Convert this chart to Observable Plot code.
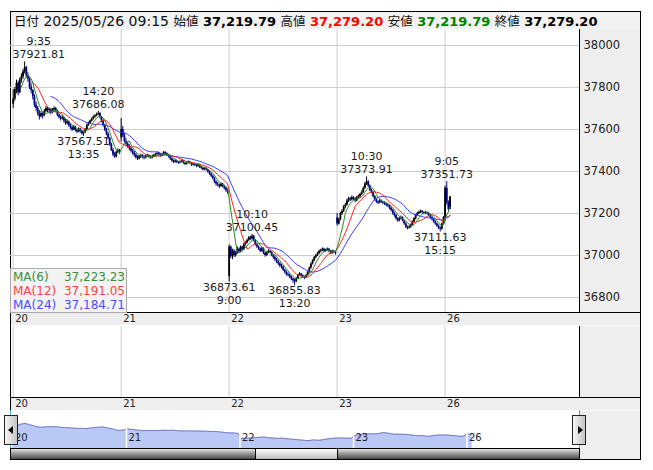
<!DOCTYPE html>
<html><head><meta charset="utf-8">
<script src="https://cdn.jsdelivr.net/npm/d3@7"></script>
<script src="https://cdn.jsdelivr.net/npm/@observablehq/plot@0.6"></script>
<style>
body{margin:0;background:#fff;}
#wrap{position:relative;width:653px;height:470px;overflow:hidden;font-family:"DejaVu Sans",sans-serif;color:#111;}
.abs{position:absolute;box-sizing:border-box;}
.cjk{font-family:"Noto Sans CJK JP",sans-serif;font-size:12.5px;}
.hv{font-weight:bold;font-size:13px;}
svg{position:absolute;}
</style></head><body><div id="wrap"></div>
<script>
// ---------------- data ----------------
const days = ["20","21","22","23","26"];
const headerDate = "2025/05/26 09:15";
const headerLabels = ["始値","高値","安値","終値"];
const headerValues = ["37,219.79","37,279.20","37,219.79","37,279.20"];
const yTicks = [36800,37000,37200,37400,37600,37800,38000];
const maPeriods = [6,12,24];
const maLegendValues = ["37,223.23","37,191.05","37,184.71"];
// [open, high, low, close] per 5-minute bar
const day20 = [[37720,37790,37700,37745],[37745,37800,37735,37790],[37790,37835,37770,37820],[37820,37830,37760,37775],[37775,37845,37770,37835],[37835,37865,37820,37850],[37850,37885,37840,37875],[37875,37921.81,37865,37895],[37895,37900,37845,37855],[37855,37870,37825,37840],[37840,37845,37790,37800],[37800,37815,37770,37785],[37785,37790,37740,37755],[37755,37765,37705,37715],[37715,37730,37685,37700],[37700,37710,37665,37675],[37675,37690,37645,37660],[37660,37685,37655,37675],[37675,37680,37650,37665],[37665,37695,37660,37685],[37685,37710,37680,37700],[37700,37705,37680,37690],[37690,37700,37675,37695],[37695,37700,37670,37680],[37680,37700,37675,37692],[37692,37708,37685,37700],[37700,37705,37680,37688],[37688,37692,37660,37668],[37668,37675,37650,37658],[37658,37665,37640,37650],[37650,37668,37645,37655],[37655,37660,37630,37640],[37640,37648,37620,37628],[37628,37645,37622,37636],[37636,37640,37610,37618],[37618,37625,37600,37608],[37608,37615,37590,37598],[37598,37620,37595,37612],[37612,37615,37588,37594],[37594,37600,37580,37588],[37588,37608,37585,37602],[37602,37605,37582,37590],[37590,37595,37572,37580],[37580,37592,37567.51,37585],[37585,37605,37580,37600],[37600,37625,37598,37620],[37620,37635,37615,37630],[37630,37645,37625,37640],[37640,37655,37635,37650],[37650,37665,37645,37660],[37660,37670,37652,37665],[37665,37678,37660,37672],[37672,37686.08,37665,37676],[37676,37680,37650,37658],[37658,37662,37632,37640],[37640,37645,37612,37618],[37618,37625,37590,37598],[37598,37605,37570,37578],[37578,37585,37550,37558],[37558,37562,37520,37528],[37528,37535,37495,37500],[37500,37510,37470,37480],[37480,37490,37462,37470],[37470,37498,37465,37492],[37492,37508,37485,37500],[37500,37505,37480,37490]];
const day21 = [[37560,37652,37540,37600],[37600,37615,37560,37570],[37570,37580,37535,37542],[37542,37555,37520,37530],[37530,37540,37510,37520],[37520,37528,37498,37508],[37508,37515,37488,37498],[37498,37505,37478,37488],[37488,37495,37468,37478],[37478,37485,37458,37466],[37466,37475,37452,37460],[37460,37478,37455,37472],[37472,37482,37462,37476],[37476,37480,37460,37468],[37468,37475,37455,37464],[37464,37478,37460,37472],[37472,37482,37466,37476],[37476,37480,37462,37470],[37470,37475,37458,37465],[37465,37478,37460,37472],[37472,37482,37468,37476],[37476,37486,37472,37482],[37482,37492,37478,37486],[37486,37490,37474,37480],[37480,37484,37468,37474],[37474,37486,37470,37482],[37482,37496,37478,37490],[37490,37494,37478,37484],[37484,37488,37472,37478],[37478,37482,37464,37470],[37470,37475,37452,37460],[37460,37465,37444,37450],[37450,37455,37438,37444],[37444,37456,37440,37450],[37450,37454,37438,37444],[37444,37448,37434,37440],[37440,37450,37436,37446],[37446,37456,37442,37450],[37450,37452,37434,37440],[37440,37444,37428,37434],[37434,37446,37430,37440],[37440,37450,37436,37445],[37445,37448,37434,37440],[37440,37442,37424,37430],[37430,37440,37426,37436],[37436,37438,37424,37430],[37430,37434,37418,37424],[37424,37434,37420,37430],[37430,37432,37414,37420],[37420,37424,37408,37414],[37414,37418,37402,37408],[37408,37420,37404,37415],[37415,37418,37402,37408],[37408,37410,37392,37398],[37398,37402,37382,37388],[37388,37392,37370,37378],[37378,37382,37360,37368],[37368,37372,37342,37350],[37350,37356,37330,37340],[37340,37348,37326,37335],[37335,37340,37318,37328],[37328,37345,37324,37340],[37340,37344,37322,37330],[37330,37335,37312,37320],[37320,37326,37302,37310],[37310,37315,37292,37300]];
const day22 = [[36900,37050,36873.61,37040],[37040,37045,36985,36995],[36995,37030,36980,37020],[37020,37028,36990,37000],[37000,37020,36992,37012],[37012,37040,37005,37030],[37030,37035,37010,37018],[37018,37045,37012,37040],[37040,37044,37020,37028],[37028,37058,37024,37052],[37052,37066,37045,37060],[37060,37078,37055,37072],[37072,37090,37066,37085],[37085,37092,37072,37078],[37078,37100.45,37074,37092],[37092,37095,37065,37070],[37070,37075,37045,37050],[37050,37058,37034,37040],[37040,37046,37024,37030],[37030,37036,37014,37020],[37020,37040,37016,37032],[37032,37036,37004,37010],[37010,37015,36992,37000],[37000,37018,36996,37012],[37012,37028,37008,37020],[37020,37024,37008,37014],[37014,37018,36994,37000],[37000,37004,36982,36990],[36990,36995,36972,36980],[36980,36986,36962,36970],[36970,36975,36952,36960],[36960,36966,36942,36950],[36950,36958,36936,36945],[36945,36950,36924,36930],[36930,36935,36912,36920],[36920,36926,36902,36910],[36910,36918,36898,36905],[36905,36910,36890,36898],[36898,36902,36880,36888],[36888,36892,36868,36880],[36880,36888,36855.83,36875],[36875,36895,36870,36890],[36890,36910,36886,36905],[36905,36918,36900,36912],[36912,36915,36898,36904],[36904,36908,36890,36898],[36898,36902,36885,36894],[36894,36910,36890,36905],[36905,36925,36902,36920],[36920,36945,36915,36940],[36940,36965,36935,36960],[36960,36980,36955,36975],[36975,36995,36970,36990],[36990,37005,36984,37000],[37000,37015,36995,37010],[37010,37025,37004,37020],[37020,37030,37012,37025],[37025,37036,37018,37030],[37030,37034,37014,37020],[37020,37030,37015,37025],[37025,37036,37020,37030],[37030,37034,37014,37020],[37020,37024,37004,37010],[37010,37026,37006,37020],[37020,37024,37008,37015],[37015,37020,37002,37010]];
const day23 = [[37180,37200,37140,37150],[37150,37178,37145,37170],[37170,37205,37165,37200],[37200,37218,37190,37210],[37210,37238,37205,37230],[37230,37248,37222,37240],[37240,37268,37235,37260],[37260,37278,37252,37270],[37270,37276,37256,37265],[37265,37284,37260,37275],[37275,37280,37262,37270],[37270,37274,37252,37260],[37260,37282,37256,37275],[37275,37288,37270,37280],[37280,37296,37274,37290],[37290,37308,37285,37300],[37300,37326,37296,37320],[37320,37348,37315,37340],[37340,37373.91,37334,37350],[37350,37356,37324,37330],[37330,37336,37304,37310],[37310,37316,37294,37300],[37300,37304,37274,37280],[37280,37285,37258,37265],[37265,37270,37248,37255],[37255,37260,37242,37250],[37250,37266,37246,37260],[37260,37264,37248,37255],[37255,37258,37242,37250],[37250,37256,37238,37245],[37245,37250,37232,37240],[37240,37246,37228,37235],[37235,37240,37218,37225],[37225,37230,37208,37215],[37215,37220,37192,37200],[37200,37206,37182,37190],[37190,37195,37168,37175],[37175,37180,37158,37165],[37165,37182,37160,37175],[37175,37188,37170,37180],[37180,37184,37160,37165],[37165,37170,37144,37150],[37150,37156,37128,37135],[37135,37140,37122,37130],[37130,37142,37126,37135],[37135,37150,37130,37145],[37145,37165,37140,37160],[37160,37180,37155,37175],[37175,37195,37170,37190],[37190,37206,37185,37200],[37200,37212,37195,37205],[37205,37216,37200,37210],[37210,37214,37198,37205],[37205,37208,37194,37200],[37200,37210,37196,37205],[37205,37208,37192,37200],[37200,37204,37184,37190],[37190,37194,37174,37180],[37180,37184,37164,37170],[37170,37175,37154,37160],[37160,37165,37144,37150],[37150,37154,37134,37140],[37140,37145,37124,37130],[37130,37136,37111.63,37125],[37125,37155,37120,37150],[37150,37185,37145,37180]];
const day26 = [[37180,37330,37160,37320],[37320,37351.73,37240,37250],[37250,37260,37210,37219.79],[37219.79,37279.20,37219.79,37279.20]];
// high / low annotations
const annoDays   = ["20","20","20","22","22","22","23","23","26"];
const annoTimes  = ["9:35","13:35","14:20","9:00","10:10","13:20","10:30","15:15","9:05"];
const annoPrices = [37921.81,37567.51,37686.08,36873.61,37100.45,36855.83,37373.91,37111.63,37351.73];
const annoKinds  = ["high","low","high","low","high","low","high","low","high"];

// ---------------- build ----------------
const BARS = 66;
const dayData = [day20, day21, day22, day23, day26];
const bars = dayData.flatMap((arr, di) => arr.map((b, i) => ({g: di*BARS + i, open:b[0], high:b[1], low:b[2], close:b[3]})));
bars.forEach((b, i) => {
  b.up = b.close >= b.open;
  maPeriods.forEach(p => { b["ma"+p] = i >= p-1 ? d3.mean(bars.slice(i-p+1, i+1), d => d.close) : NaN; });
});
const dayStarts = days.map((d, i) => ({day: d, g: i*BARS}));
function barIndex(t){const [h,m]=t.split(":").map(Number);const mn=h*60+m;return mn<720?(mn-540)/5:30+(mn-750)/5;}

const FONT = "DejaVu Sans";
const ANNO_SIZE = 11;
const xDomain = [-1.65, 346.15];
const W = 631, PLOTW = 569;
const xs = d3.scaleLinear(xDomain, [0, PLOTW]);
const ctx = document.createElement("canvas").getContext("2d");
ctx.font = ANNO_SIZE + "px " + FONT;
const annos = annoTimes.map((t, i) => {
  const g = days.indexOf(annoDays[i])*BARS + barIndex(t);
  const w = Math.max(ctx.measureText(t).width, ctx.measureText(annoPrices[i].toFixed(2)).width);
  const px = xs(g);
  const shift = Math.max(0, w/2 + 2 - px);
  return {g: xs.invert(px + shift), price: annoPrices[i], time: t, value: annoPrices[i].toFixed(2), kind: annoKinds[i]};
});
const highs = annos.filter(a => a.kind === "high"), lows = annos.filter(a => a.kind === "low");

const wrap = document.getElementById("wrap");
function box(l,t,w,h,css,html){const d=document.createElement("div");d.className="abs";d.style.cssText=`left:${l}px;top:${t}px;width:${w}px;height:${h}px;`+(css||"");if(html)d.innerHTML=html;wrap.appendChild(d);return d;}

// header
const hColors = ["#000","#ff0000","#008000","#000"];
box(10,11,631,19,"border:1px solid #000;background:#f2f2f2;font-size:14px;line-height:17px;padding-left:3px;white-space:nowrap;",
  `<span class="cjk">日付</span> ${headerDate} ` + headerLabels.map((l,i)=>`<span class="cjk">${l}</span> <span class="hv" style="color:${hColors[i]}">${headerValues[i]}</span>`).join(" "));
// frame backgrounds
box(10,29,631,283,"border-left:1px solid #000;border-right:1px solid #000;background:#fff");
box(579,29,61,283,"background:#eee;border-left:1px solid #000");
box(10,312,631,14,"border:1px solid #000;background:#eee");
box(10,325,631,73,"border-left:1px solid #000;border-right:1px solid #000;background:#fff");
box(579,326,61,71,"background:#eee;border-left:1px solid #000");
box(10,397,631,14,"border:1px solid #000;background:#eee");
box(10,410,631,50,"border-left:1px solid #000;border-right:1px solid #000;border-bottom:1px solid #000;background:#fff");
box(579,411,61,48,"background:#eee;border-left:1px solid #000");

// main chart
const main = Plot.plot({
  width: W, height: 283, marginLeft: 0, marginRight: W-PLOTW, marginTop: 0, marginBottom: 0,
  style: {background: "transparent", fontFamily: FONT, fontSize: "11.5px", color: "#222", overflow: "visible"},
  x: {domain: xDomain, axis: null},
  y: {domain: [36728.6, 38076], axis: "right", ticks: yTicks, tickSize: 0, tickPadding: 4, tickFormat: d => String(d), label: null},
  marks: [
    Plot.ruleY(yTicks, {stroke: "#cccccc"}),
    Plot.ruleX(dayStarts, {x: "g", stroke: "#cccccc"}),
    Plot.ruleX(bars, {x: "g", y1: "low", y2: "high", stroke: d => d.up ? "#000" : "#000080", strokeWidth: 1}),
    Plot.ruleX(bars, {x: "g", y1: "open", y2: "close", stroke: d => d.up ? "#000" : "#000080", strokeWidth: 1.8}),
    Plot.line(bars, {x: "g", y: "ma24", stroke: "#3838ff", strokeWidth: 1}),
    Plot.line(bars, {x: "g", y: "ma12", stroke: "#ff2020", strokeWidth: 1}),
    Plot.line(bars, {x: "g", y: "ma6", stroke: "#228b22", strokeWidth: 1}),
    Plot.text(highs, {x: "g", y: "price", text: "value", dy: -7, fill: "#1a1a1a", fontSize: ANNO_SIZE}),
    Plot.text(highs, {x: "g", y: "price", text: "time", dy: -20, fill: "#1a1a1a", fontSize: ANNO_SIZE}),
    Plot.text(lows, {x: "g", y: "price", text: "value", dy: 5, fill: "#1a1a1a", fontSize: ANNO_SIZE}),
    Plot.text(lows, {x: "g", y: "price", text: "time", dy: 18, fill: "#1a1a1a", fontSize: ANNO_SIZE})
  ]
});
main.style.left = "10px"; main.style.top = "29px";
wrap.appendChild(main);

// date strips + lower panel
const lower = Plot.plot({
  width: W, height: 98, marginLeft: 0, marginRight: W-PLOTW, marginTop: 0, marginBottom: 0,
  style: {background: "transparent", fontFamily: FONT, fontSize: "10px", color: "#222", overflow: "visible"},
  x: {domain: xDomain, axis: null},
  y: {domain: [0, 98], range: [0, 98], axis: null},
  marks: [
    Plot.ruleX(dayStarts, {x: "g", y1: 14, y2: 85, stroke: "#cccccc"}),
    Plot.text(dayStarts, {x: "g", y: 6, text: "day", textAnchor: "start", dx: 2, fill: "#222"}),
    Plot.text(dayStarts, {x: "g", y: 91, text: "day", textAnchor: "start", dx: 2, fill: "#222"})
  ]
});
lower.style.left = "10px"; lower.style.top = "312px";
wrap.appendChild(lower);

// navigator
const nav = Plot.plot({
  width: W, height: 38, marginLeft: 0, marginRight: W-PLOTW, marginTop: 0, marginBottom: 0,
  style: {background: "transparent", fontFamily: FONT, fontSize: "10px", color: "#222", overflow: "visible"},
  x: {domain: [-1.454, 329.42], axis: null},
  y: {domain: [36410, 38650], axis: null},
  marks: [
    Plot.areaY(bars, {x: "g", y1: 36410, y2: "close", fill: "#bac8f6"}),
    Plot.lineY(bars, {x: "g", y: "close", stroke: "#7676c4", strokeWidth: 1}),
    Plot.ruleX(dayStarts.slice(1), {x: "g", stroke: "#fff", strokeWidth: 1.5}),
    Plot.text(dayStarts, {x: "g", frameAnchor: "bottom", dy: -8, text: "day", textAnchor: "start", dx: 2, fill: "#222"})
  ]
});
nav.style.left = "10px"; nav.style.top = "410px";
wrap.appendChild(nav);

// navigator chrome
box(10,410,1,38,"background:#3ab0e0");
box(579,410,1,38,"background:#3ab0e0");
box(10,448,570,12,"border:1px solid #000;background:linear-gradient(#e4e4e4,#9a9a9a 45%,#4a4a4a)");
box(255,448,83,12,"border:1px solid #000;background:linear-gradient(#fdfdfd,#d8d8d8 60%,#b8b8b8)");
box(4,415,14,30,"border:1px solid #222;background:linear-gradient(to right,#f6f6f6,#c4c4c4)",
  '<div style="position:absolute;left:3px;top:10px;width:0;height:0;border-top:4px solid transparent;border-bottom:4px solid transparent;border-right:5px solid #000"></div>');
box(572,415,14,30,"border:1px solid #222;background:linear-gradient(to right,#f6f6f6,#c4c4c4)",
  '<div style="position:absolute;left:5px;top:10px;width:0;height:0;border-top:4px solid transparent;border-bottom:4px solid transparent;border-left:5px solid #000"></div>');

// MA legend
const maColors = ["#3a8f3a","#ff4444","#4c4cff"];
box(10,268,117,45,"border:1px solid #aaa;background:rgba(242,242,242,0.92);font-size:12px;line-height:14px;padding:1px 1px 0 2px;",
  maPeriods.map((p,i)=>`<div style="display:flex;justify-content:space-between;color:${maColors[i]}"><span>MA(${p})</span><span>${maLegendValues[i]}</span></div>`).join(""));
</script></body></html>
